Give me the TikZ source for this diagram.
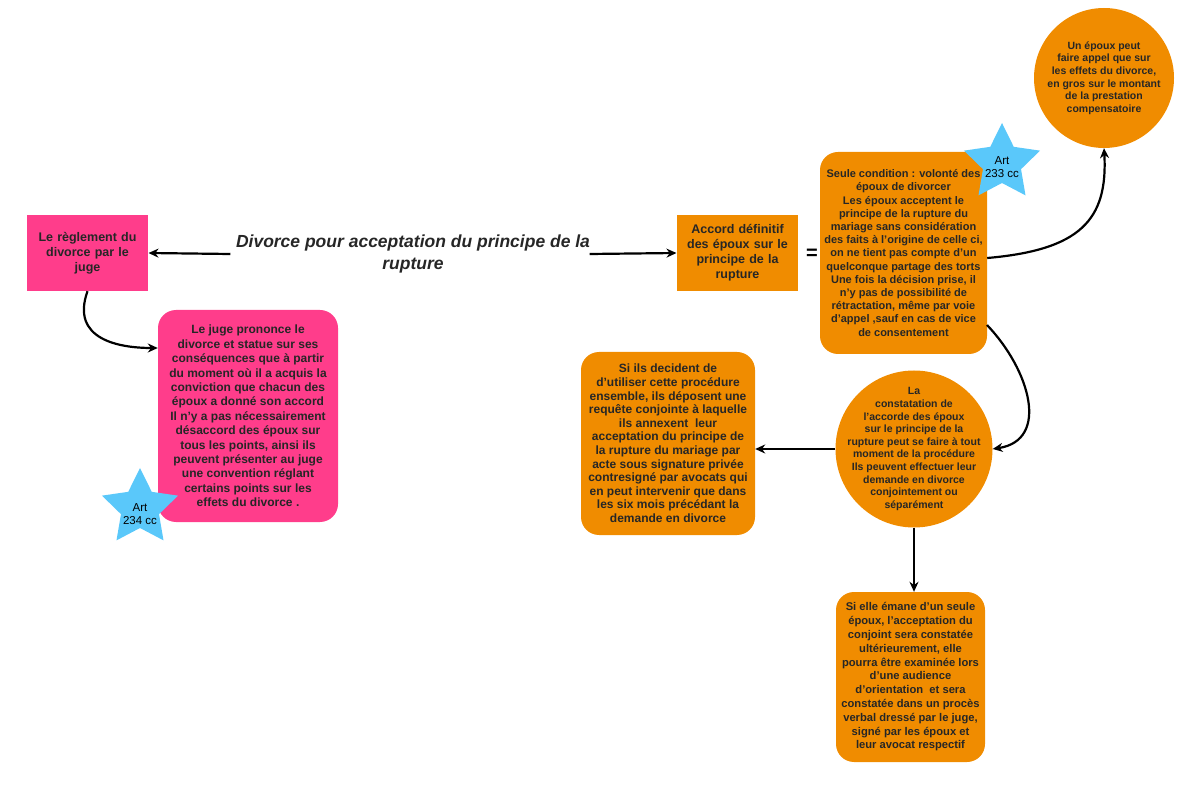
\documentclass[tikz,border=0pt]{standalone}
\usepackage{fontspec}
\setmainfont{Liberation Sans}
\usetikzlibrary{shapes.geometric,arrows.meta}
\definecolor{org}{HTML}{F08C00}
\definecolor{pnk}{HTML}{FF3D8B}
\definecolor{sky}{HTML}{5AC8FA}
\begin{document}
\begin{tikzpicture}[x=1pt,y=-1pt,
  txt/.style={font=\bfseries\fontsize{10.5}{12.6}\selectfont,align=center,text=black!85},
  rbox/.style={txt,fill=org,rounded corners=18pt,inner sep=0pt},
  circ/.style={txt,fill=org,circle,inner sep=-14pt},
  star5/.style={star,star points=5,star point ratio=2,fill=sky,minimum size=80pt,inner sep=0pt},
  arr/.style={-{Stealth[length=10pt,width=9pt]},line width=2.2pt}]
\useasboundingbox (0,0) rectangle (1200,791);
\node[txt,fill=pnk,minimum width=121pt,minimum height=76pt,text width=115pt,font=\bfseries\fontsize{12.5}{15}\selectfont] (reg) at (87.5,253) {Le règlement du\\divorce par le\\juge};
\node[txt,font=\bfseries\itshape\fontsize{17.5}{22}\selectfont] (title) at (413,254) {Divorce pour acceptation du principe de la\\rupture};
\node[txt,fill=org,minimum width=119pt,minimum height=76pt,text width=115pt,font=\bfseries\fontsize{12.5}{15}\selectfont] (acc) at (737.5,253) {Accord définitif\\des époux sur le\\principe de la\\rupture};
\node[font=\bfseries\fontsize{20}{20}\selectfont] (eq) at (812,254) {=};
\node[rbox,minimum width=167pt,minimum height=202pt,font=\bfseries\fontsize{11}{13.2}\selectfont] (cond) at (903.5,253) {Seule condition : volonté des\\époux de divorcer\\Les époux acceptent le\\principe de la rupture du\\mariage sans considération\\des faits à l'origine de celle ci,\\on ne tient pas compte d'un\\quelconque partage des torts\\Une fois la décision prise, il\\n'y pas de possibilité de\\rétractation, même par voie\\d'appel ,sauf en cas de vice\\de consentement};
\node[star5] (s1) at (1002,163) {};
\node[font=\fontsize{11.5}{13}\selectfont,align=center] at (1002,167) {Art\\233 cc};
\node[circ,minimum size=140pt] (app) at (1104,78) {Un époux peut\\faire appel que sur\\les effets du divorce,\\en gros sur le montant\\de la prestation\\compensatoire};
\node[txt,fill=pnk,rounded corners=18pt,minimum width=180pt,minimum height=212pt,font=\bfseries\fontsize{12}{14.4}\selectfont] (juge) at (248,416) {Le juge prononce le\\divorce et statue sur ses\\conséquences que à partir\\du moment où il a acquis la\\conviction que chacun des\\époux a donné son accord\\Il n'y a pas nécessairement\\désaccord des époux sur\\tous les points, ainsi ils\\peuvent présenter au juge\\une convention réglant\\certains points sur les\\effets du divorce .};
\node[star5] (s2) at (140,508) {};
\node[font=\fontsize{11.5}{13}\selectfont,align=center] at (140,514) {Art\\234 cc};
\node[circ,minimum size=157pt] (cons) at (914,449) {La\\constatation de\\l'accorde des époux\\sur le principe de la\\rupture peut se faire à tout\\moment de la procédure\\Ils peuvent effectuer leur\\demande en divorce\\conjointement ou\\séparément};
\node[rbox,minimum width=174pt,minimum height=183pt,font=\bfseries\fontsize{12}{13.6}\selectfont] (ens) at (668,443.5) {Si ils decident de\\d'utiliser cette procédure\\ensemble, ils déposent une\\requête conjointe à laquelle\\ils annexent\ \ leur\\acceptation du principe de\\la rupture du mariage par\\acte sous signature privée\\contresigné par avocats qui\\en peut intervenir que dans\\les six mois précédant la\\demande en divorce};
\node[rbox,minimum width=149pt,minimum height=170pt,font=\bfseries\fontsize{11.2}{13.8}\selectfont] (seul) at (910.5,677) {Si elle émane d'un seule\\époux, l'acceptation du\\conjoint sera constatée\\ultérieurement, elle\\pourra être examinée lors\\d'une audience\\d'orientation\ \ et sera\\constatée dans un procès\\verbal dressé par le juge,\\signé par les époux et\\leur avocat respectif};
\draw[arr] (title.west) ++(-2,0) -- (reg.east);
\draw[arr] (title.east) ++(-4,0) -- (acc.west);
\draw[arr] (cond.east) ++(0,5) .. controls (1080,250) and (1108,220) .. (app.south);
\draw[arr] (reg.south) .. controls (70,340) and (120,348) .. (juge.west |- 0,348);
\draw[arr] (987,325) .. controls (1030,370) and (1050,440) .. (cons.east);
\draw[arr] (cons.west) -- (ens.east |- cons.west);
\draw[arr] (cons.south) -- (seul.north -| cons.south);
\end{tikzpicture}
\end{document}
